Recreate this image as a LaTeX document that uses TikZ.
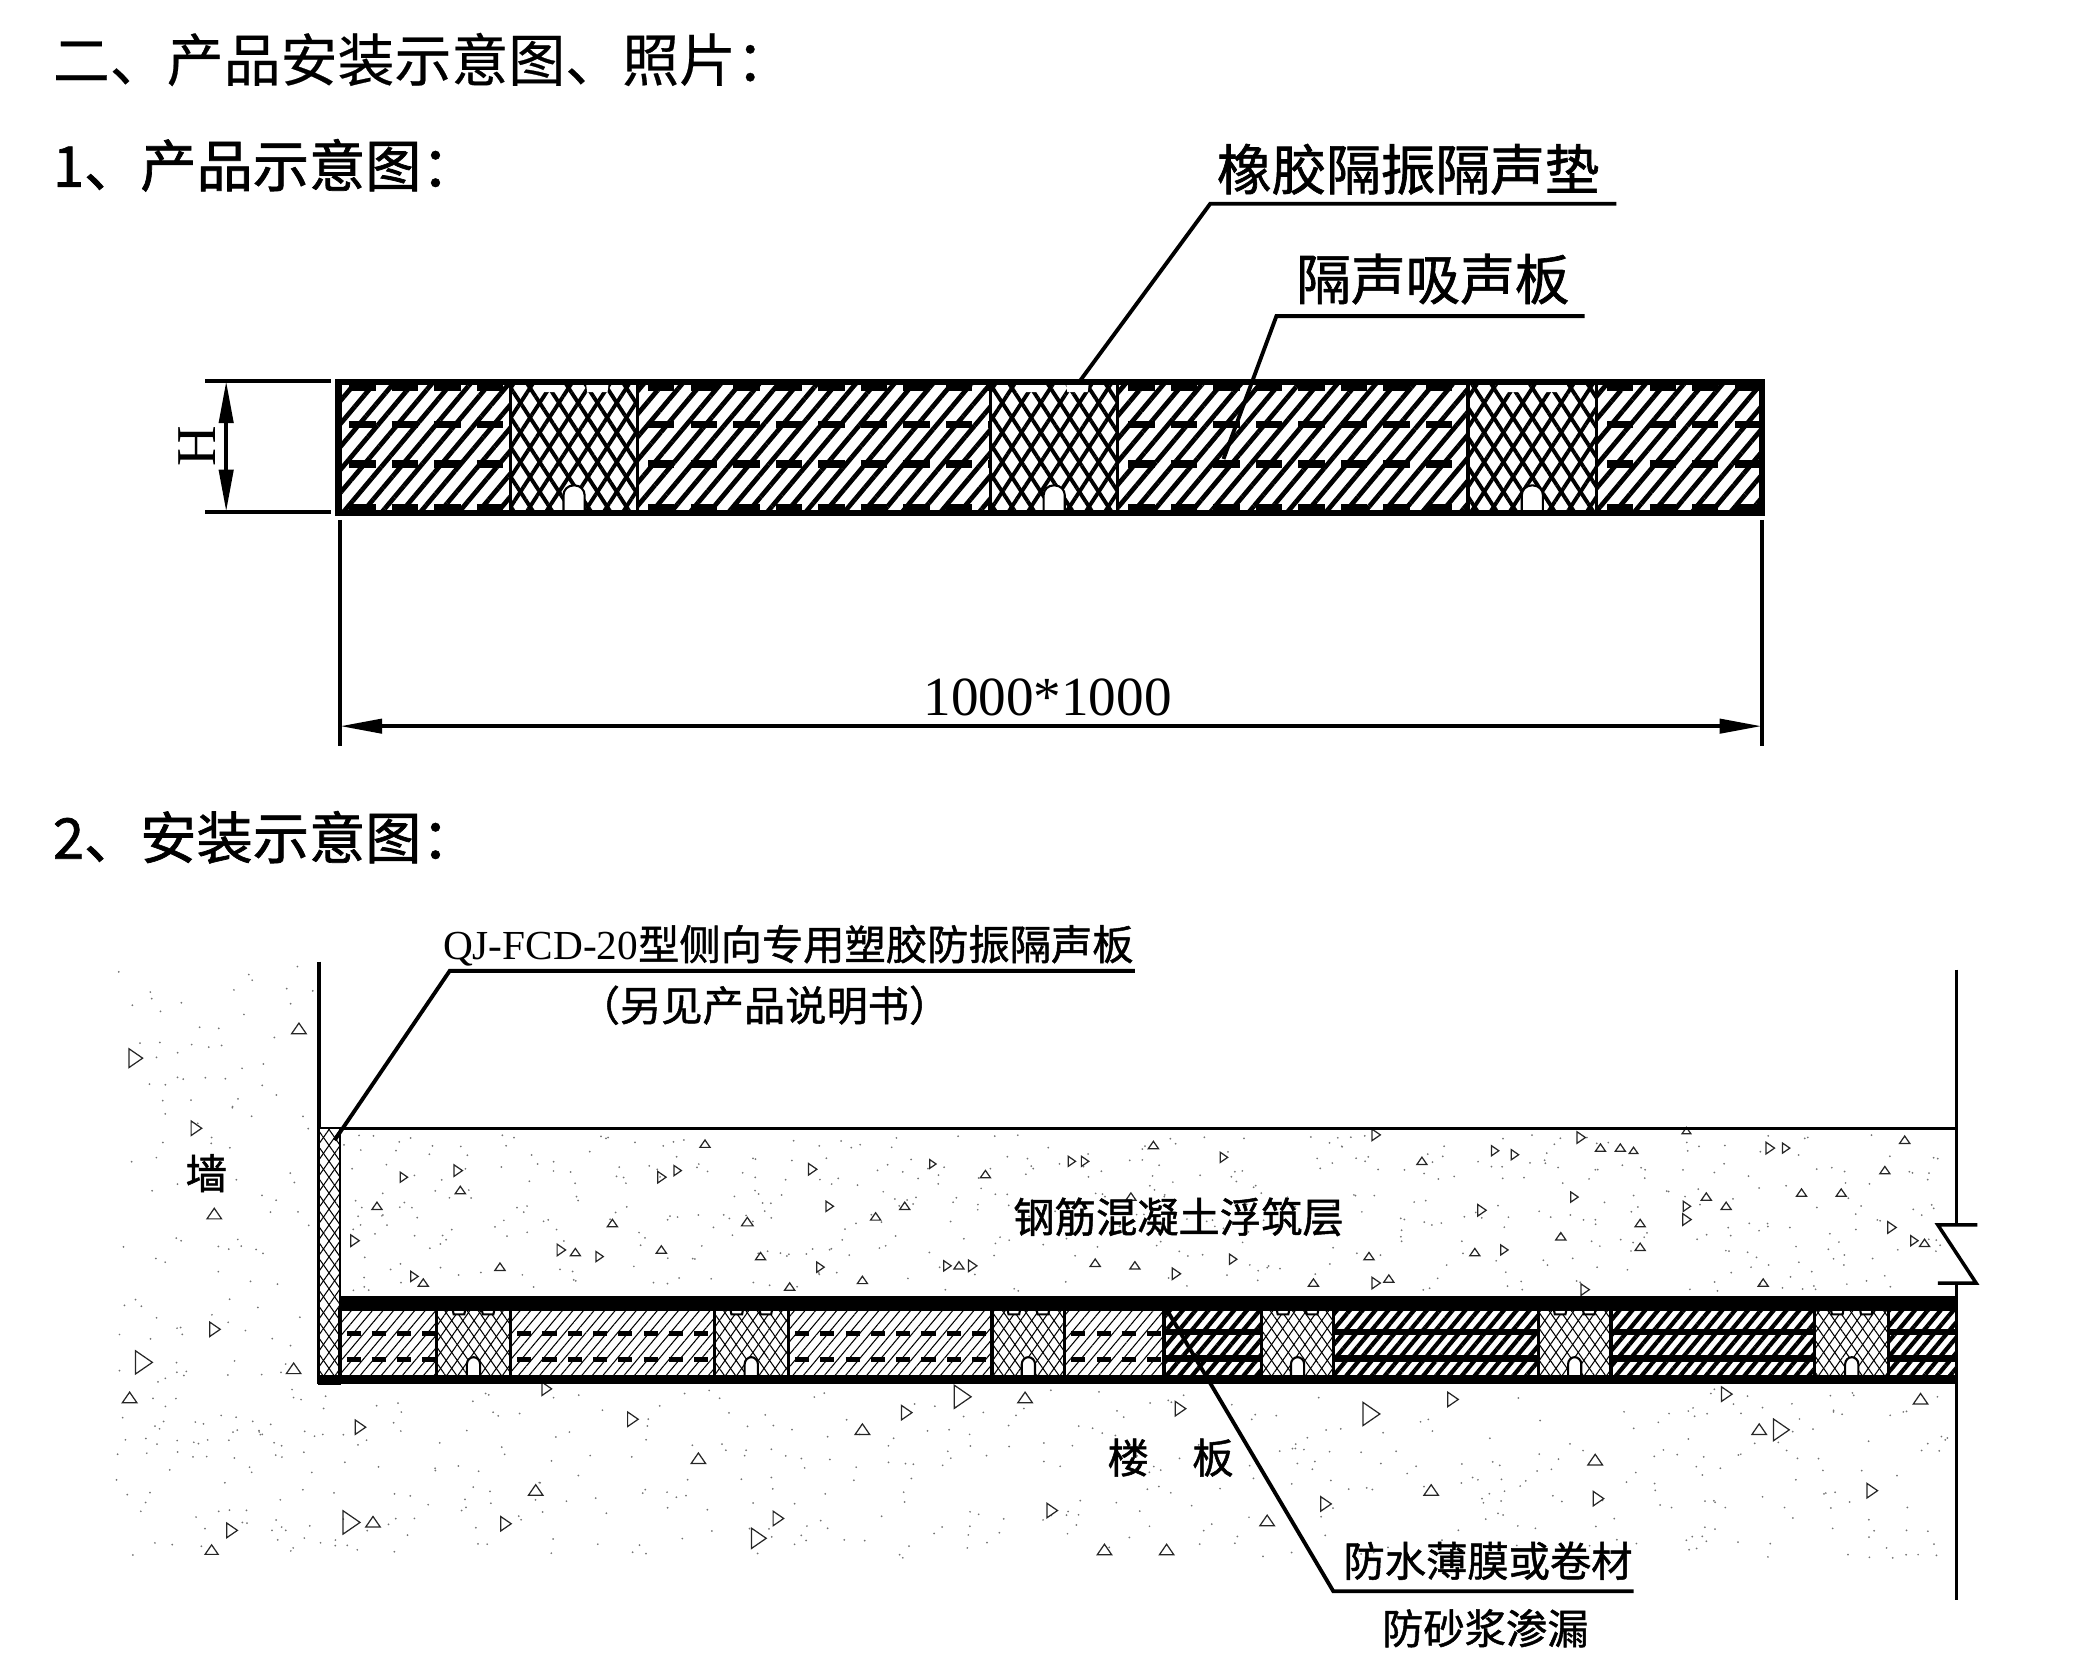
\documentclass[tikz,border=0pt]{standalone}
\usepackage{fontspec}
\setmainfont{Liberation Serif}
\newfontfamily\cjk[FakeBold=1.2]{Noto Sans CJK SC}
\newfontfamily\cjkthin[FakeBold=0.4]{Noto Sans CJK SC}
\usetikzlibrary{positioning,calc,arrows.meta,patterns.meta}
\newcommand{\unitlen}{0.013227cm}
\newcommand{\speckle}[5]{%
  \foreach \i in {1,...,#5} {
    \pgfmathsetmacro\dotx{#1+rnd*(#3-#1)}
    \pgfmathsetmacro\doty{#2+rnd*(#4-#2)}
    \fill[black!55] (\dotx,\doty) circle (0.28pt);
  }}
\newcommand{\meshholes}[4]{%
  \fill[white,draw=black,line width=0.6pt] ($(path picture bounding box.south)+(-#1,3)$) [rounded corners=#2] -- ++(0,-#3) -- ++(#1*2,0) [sharp corners] -- ++(0,#3) -- cycle;
  \foreach \side in {-1,1}
    \fill[white,draw=#4,line width=0.6pt] ($(path picture bounding box.north)+(\side*#1*2.2-#1,-1)$) -- ++(1,#1*0.95) -- ++(#1*2-2,0) -- ++(1,-#1*0.95) -- cycle;}
\begin{document}
\begin{tikzpicture}[x=\unitlen,y=-\unitlen,
  every node/.style={inner sep=0,outer sep=0},
  headline/.style={font=\cjkthin\fontsize{16.2}{16.2}\selectfont,anchor=west},
  subhead/.style={font=\cjk\fontsize{16}{16}\selectfont,anchor=west},
  tag/.style={font=\cjk\fontsize{15.55}{15.55}\selectfont,anchor=west},
  smalltag/.style={font=\cjk\fontsize{11.75}{11.75}\selectfont},
  cell/.style={rectangle,draw,minimum width=#1*\unitlen,preaction={fill=white}},
  slabbox/.style={cell=#1,line width=1pt,minimum height=99*\unitlen,
    pattern={Lines[angle=50,distance=4.2pt,line width=1.35pt]},
    path picture={
      \foreach \rowy in {4,32,62,95}
        \draw[line width=2.2pt,dash pattern=on 7.5pt off 4.6pt] ($(path picture bounding box.north west)+(8,\rowy)$) -- ++(#1,0);
    }},
  meshbox/.style={cell=#1,line width=1pt,minimum height=99*\unitlen,
    preaction={pattern={Lines[angle=57,distance=4.6pt,line width=1.1pt]}},
    pattern={Lines[angle=123,distance=4.6pt,line width=1.1pt]},
    path picture={\meshholes{8}{2.8pt}{24}{white}}},
  thinslab/.style={cell=#1,line width=0.9pt,minimum height=52*\unitlen,
    pattern={Lines[angle=50,distance=2.3pt,line width=0.3pt]},
    path picture={
      \foreach \rowy in {18,38}
        \draw[line width=1.4pt,dash pattern=on 4pt off 3.2pt] ($(path picture bounding box.north west)+(5,\rowy)$) -- ++(#1,0);
    }},
  darkslab/.style={cell=#1,line width=0.9pt,minimum height=52*\unitlen,
    pattern={Lines[angle=50,distance=2.8pt,line width=1.2pt]},
    path picture={
      \foreach \rowy in {17,37}
        \draw[line width=1.9pt] ($(path picture bounding box.north west)+(0,\rowy)$) -- ++(#1,0);
    }},
  thinmesh/.style={cell=#1,line width=0.9pt,minimum height=52*\unitlen,
    preaction={pattern={Lines[angle=55,distance=2.6pt,line width=0.3pt]}},
    pattern={Lines[angle=125,distance=2.6pt,line width=0.3pt]},
    path picture={\meshholes{5}{2pt}{19}{black}}},
  leader/.style={line width=1.1pt},
  grain/.style={line width=0.35pt,draw=black!85},
  dimline/.style={line width=1.15pt},
  dimtip/.style={{Stealth[length=12pt,width=4pt,inset=0pt]}-{Stealth[length=12pt,width=4pt,inset=0pt]}},
]
\useasboundingbox (0,0) rectangle (1568,1269.4);

\node (title) [headline] at (40,45) {二、产品安装示意图、照片：};
\node (subone) [subhead] at (40,125) {1、产品示意图：};
\node (subtwo) [subhead] at (40,633) {2、安装示意图：};

\node (slabA) [slabbox=130,anchor=north west] at (256,289) {};
\node (meshA) [meshbox=96,right=0 of slabA] {};
\node (slabB) [slabbox=267,right=0 of meshA] {};
\node (meshB) [meshbox=96,right=0 of slabB] {};
\node (slabC) [slabbox=265,right=0 of meshB] {};
\node (meshC) [meshbox=97,right=0 of slabC] {};
\node (slabD) [slabbox=125,right=0 of meshC] {};
\draw[line width=1.8pt] (slabA.north west) rectangle (slabD.south east);

\node (rubbertag) [tag] at (920,128) {橡胶隔振隔声垫};
\node (boardtag) [tag] at (980,211) {隔声吸声板};
\coordinate (rubberend) at (1222,154);
\coordinate (rubberknee) at (915,154);
\coordinate (rubbertip) at (815,290);
\coordinate (boardend) at (1198,239);
\coordinate (boardknee) at (965,239);
\coordinate (boardtip) at (925,347);
\draw[leader] (rubberend) -- (rubberknee) -- (rubbertip);
\draw[leader] (boardend) -- (boardknee) -- (boardtip);

\coordinate (dimtopin) at (250,288);
\coordinate (dimtopout) at (155,288);
\coordinate (dimlowin) at (250,387);
\coordinate (dimlowout) at (155,387);
\coordinate (htop) at (171,288);
\coordinate (hlow) at (171,387);
\draw[dimline] (dimtopin) -- (dimtopout);
\draw[dimline] (dimlowin) -- (dimlowout);
\draw[dimline,dimtip] (htop) -- (hlow);
\node (hmark) [rotate=90,font=\fontsize{16}{16}\selectfont] at (149,337) {H};

\coordinate (tickAtop) at (257,393);
\coordinate (tickAlow) at (257,564);
\coordinate (tickBtop) at (1332,393);
\coordinate (tickBlow) at (1332,564);
\coordinate (spanA) at (257,549);
\coordinate (spanB) at (1332,549);
\draw[dimline] (tickAtop) -- (tickAlow);
\draw[dimline] (tickBtop) -- (tickBlow);
\draw[dimline,dimtip] (spanA) -- (spanB);
\node (spantag) [font=\fontsize{15.7}{15.7}\selectfont] at (792,527) {1000*1000};

\pgfmathsetseed{11}
\speckle{88}{728}{238}{1175}{130}
\speckle{260}{858}{1476}{976}{500}
\speckle{88}{1050}{1476}{1178}{450}
\foreach \x/\y/\r/\s in {
  102/800/0/1.3,226/778/90/1,148/853/0/1,162/918/90/1,162/1005/0/1,108/1030/0/1.6,98/1057/90/1,222/1035/90/1,
  305/890/0/.7,346/885/0/.8,348/900/90/.7,285/912/90/.7,268/938/0/.8,424/945/0/.8,435/947/90/.7,463/925/90/.7,
  500/890/0/.8,512/885/0/.7,533/865/90/.7,614/884/0/.8,565/924/90/.8,627/912/0/.7,662/920/90/.7,684/912/90/.7,
  705/880/0/.6,745/888/90/.7,810/878/0/.7,820/878/0/.7,925/875/0/.7,872/866/90/.7,855/905/90/.7,1040/858/0/.8,
  1075/878/90/.7,1130/870/0/.7,1145/873/0/.7,1195/860/0/.8,1210/868/90/.7,1225/868/90/.7,1235/870/90/.6,1275/855/90/.6,
  1338/868/0/.8,1350/868/0/.7,1440/862/90/.7,1425/885/90/.7,1120/915/0/.8,1190/905/0/.7,1275/912/0/.7,1290/905/90/.7,
  1305/912/90/.7,1362/902/90/.7,1392/902/90/.7,1430/928/0/.8,1455/940/90/.7,1447/938/0/.7,1240/925/90/.7,1240/943/90/.7,
  1275/922/0/.8,1115/947/90/.7,1137/945/0/.7,1035/950/90/.7,1180/935/90/.7,1333/970/90/.7,1198/975/0/.8,1050/967/90/.7,
  1040/970/0/.8,993/970/90/.7,932/952/0/.7,889/963/0/.8,858/957/90/.7,828/955/90/.7,735/957/0/.8,725/957/90/.7,
  716/957/0/.7,652/968/90/.7,620/958/0/.7,597/973/90/.7,575/950/90/.7,500/945/90/.7,453/950/0/.7,378/958/90/.7,
  320/970/90/.7,313/965/0/.7,
  272/1079/0/1,413/1050/0/.9,478/1073/0/1,528/1103/90/1,405/1127/90/1,382/1152/0/1,265/1151/0/1.6,282/1151/90/1,
  175/1157/0/1,160/1172/90/.9,573/1163/0/1.4,588/1148/0/1,652/1081/90/1,685/1068/0/1,727/1056/0/1.6,775/1057/90/1,
  795/1142/0/1,835/1172/90/1,882/1172/90/1,892/1065/0/1,958/1150/90/1,1002/1137/0/1,1036/1069/0/1.6,1082/1127/90/1,
  1098/1058/0/1,1206/1104/90/1,1208/1133/0/1,1305/1054/0/1,1330/1081/90/1,1346/1081/0/1.5,1415/1127/0/1,1452/1058/90/1}
  \draw[grain,shift={(\x,\y)},rotate=\r,scale=\s] (-3.5,-5.5) -- (4.5,0) -- (-3.5,5.5) -- cycle;

\coordinate (walltop) at (241,727);
\coordinate (wallfoot) at (241,1046);
\coordinate (slabedgeL) at (241,853);
\coordinate (slabedgeR) at (1479,853);
\coordinate (rightup) at (1479,733);
\coordinate (rightbreak) at (1479,926);
\coordinate (rightback) at (1479,970);
\coordinate (rightlow) at (1479,1210);
\coordinate (breakAl) at (1465,926);
\coordinate (breakAr) at (1495,926);
\coordinate (breakBl) at (1465,970);
\coordinate (breakBr) at (1494,970);
\draw[line width=1.2pt] (walltop) -- (wallfoot);
\draw[line width=0.9pt] (slabedgeL) -- (slabedgeR);
\draw[line width=0.9pt] (rightup) -- (rightbreak);
\draw[line width=0.9pt] (rightback) -- (rightlow);
\draw[line width=1pt] (breakAr) -- (breakAl) -- (breakBr) -- (breakBl);

\node (wallcell) [rectangle,draw,anchor=south west,minimum width=16*\unitlen,minimum height=193*\unitlen,line width=0.6pt,
  preaction={fill=white},preaction={pattern={Lines[angle=55,distance=2.6pt,line width=0.3pt]}},
  pattern={Lines[angle=125,distance=2.6pt,line width=0.3pt]}] at (241,1046) {};

\node (lightA) [thinslab=73,anchor=north west] at (257,990) {};
\node (thinA) [thinmesh=56,right=0 of lightA] {};
\node (lightB) [thinslab=154,right=0 of thinA] {};
\node (thinB) [thinmesh=56,right=0 of lightB] {};
\node (lightC) [thinslab=154,right=0 of thinB] {};
\node (thinC) [thinmesh=55,right=0 of lightC] {};
\node (lightD) [thinslab=75,right=0 of thinC] {};
\node (darkA) [darkslab=74,right=0 of lightD] {};
\node (thinD) [thinmesh=54,right=0 of darkA] {};
\node (darkB) [darkslab=155,right=0 of thinD] {};
\node (thinE) [thinmesh=55,right=0 of darkB] {};
\node (darkC) [darkslab=154,right=0 of thinE] {};
\node (thinF) [thinmesh=56,right=0 of darkC] {};
\node (darkD) [darkslab=51,right=0 of thinF] {};
\coordinate (bandtopL) at (257,985);
\coordinate (bandtopR) at (1479,985);
\coordinate (bandlowL) at (241,1043);
\coordinate (bandlowR) at (1479,1043);
\draw[line width=4pt] (bandtopL) -- (bandtopR);
\draw[line width=2.6pt] (bandlowL) -- (bandlowR);

\node (walltag) [font=\cjk\fontsize{11.75}{11.75}\selectfont] at (156,887) {墙};
\node (floortag) [font=\cjk\fontsize{11.75}{11.75}\selectfont] at (885,1102) {楼\hspace{1.05em}板};
\node (floatlayer) [smalltag] at (891,920) {钢筋混凝土浮筑层};
\node (sidetag) [font=\cjk\fontsize{11.75}{11.75}\selectfont] at (596,715) {{\rmfamily QJ-FCD-20}型侧向专用塑胶防振隔声板};
\node (sidenote) [smalltag] at (578,760) {（另见产品说明书）};
\node (filmtag) [smalltag] at (1125,1180) {防水薄膜或卷材};
\node (mortartag) [smalltag] at (1123,1231) {防砂浆渗漏};

\coordinate (sideend) at (858,734);
\coordinate (sideknee) at (340,734);
\coordinate (sidetip) at (253,862);
\coordinate (filmend) at (1235,1203);
\coordinate (filmknee) at (1008,1203);
\coordinate (filmtip) at (882,990);
\draw[leader] (sideend) -- (sideknee) -- (sidetip);
\draw[leader] (filmend) -- (filmknee) -- (filmtip);
\end{tikzpicture}
\end{document}
